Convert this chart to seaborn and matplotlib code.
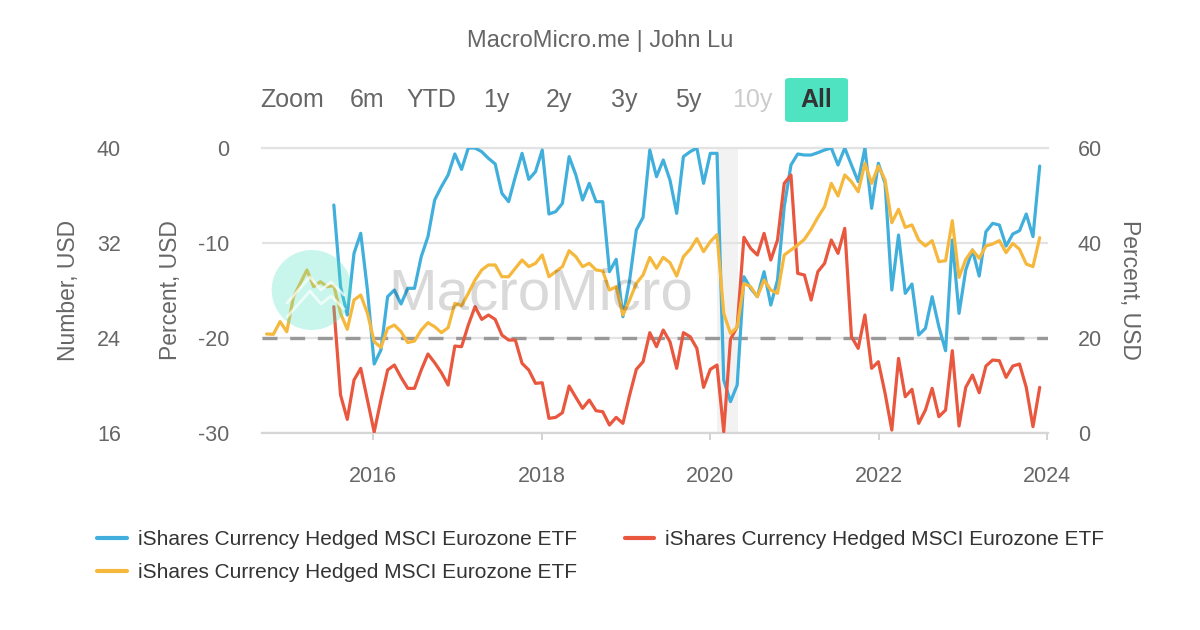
import numpy as np
import pandas as pd
import matplotlib
matplotlib.use("Agg")
import matplotlib.pyplot as plt
import seaborn as sns
from matplotlib.lines import Line2D
from matplotlib.patches import Ellipse, FancyBboxPatch

# ================= DATA =================
SERIES_NAME = "iShares Currency Hedged MSCI Eurozone ETF"

# price (Number, USD) - left outer axis
price = [24.34, 24.31, 25.38, 24.53, 27.48, 28.60, 29.73, 28.32, 28.74, 28.32, 28.41,
         26.08, 24.73, 27.20, 27.62, 26.08, 23.69, 23.21, 24.81, 25.09, 24.53,
         23.61, 23.75, 24.67, 25.29, 24.95, 24.45, 24.87, 26.92, 26.72, 27.76,
         28.88, 29.73, 30.15, 30.15, 29.16, 29.16, 29.87, 30.57, 30.01, 30.29,
         30.99, 29.16, 29.59, 30.01, 31.35, 30.85, 30.01, 30.29, 29.73, 29.64,
         28.04, 28.32, 25.94, 27.20, 28.60, 29.31, 30.79, 29.87, 30.79, 30.34,
         29.22, 30.85, 31.47, 32.37, 31.27, 32.11, 32.70, 26.08, 24.39, 24.90,
         28.60, 28.32, 27.48, 28.88, 28.04, 27.76, 30.99, 31.41, 31.83, 32.31,
         33.15, 34.16, 35.06, 37.02, 35.96, 37.73, 37.16, 36.32, 38.71, 37.02,
         38.48, 37.31, 33.71, 34.84, 33.32, 33.52, 32.25, 31.75, 32.20, 30.43,
         30.51, 33.88, 29.11, 30.62, 31.41, 30.71, 31.75, 31.92, 32.20, 31.19,
         31.97, 31.47, 30.23, 30.01, 32.45]

# drawdown (Percent, USD) - left inner axis, starts later than price
drawdown = [-6.00, -14.60, -17.58, -11.09, -8.98, -14.95, -22.74, -21.27, -15.65, -14.95, -16.42,
            -14.77, -14.77, -11.44, -9.33, -5.47, -4.07, -2.84, -0.63, -2.25, 0.0,
            0.0, -0.39, -1.09, -1.68, -4.77, -5.65, -3.02, -0.56, -3.30, -2.49,
            -0.21, -6.95, -6.70, -5.83, -0.91, -2.84, -5.47, -3.72, -5.65, -5.65,
            -13.02, -11.72, -17.76, -13.90, -8.63, -7.30, -0.21, -3.02, -1.26, -3.37,
            -6.88, -0.91, -0.39, 0.0, -3.72, -0.56, -0.56, -24.42, -26.70, -24.95,
            -13.55, -14.77, -15.65, -13.02, -16.53, -13.90, -6.18, -1.79, -0.63, -0.74,
            -0.74, -0.49, -0.21, 0.0, -1.79, 0.0, -1.79, -3.54, 0.0, -6.35,
            -1.61, -3.72, -14.95, -9.16, -15.30, -14.32, -19.69, -18.98, -15.65, -18.81,
            -21.34, -9.69, -17.41, -12.84, -10.74, -13.48, -8.81, -7.93, -8.11, -10.32,
            -9.05, -8.70, -6.95, -9.33, -1.90]

# yoy change (Percent, USD) - right axis
yoy = [26.59, 7.99, 2.87, 11.15, 13.61, 6.94, 0.20, 6.94, 13.26, 14.31, 11.71,
       9.40, 9.40, 13.26, 16.63, 14.80, 12.70, 10.10, 18.31, 18.17, 22.73,
       26.59, 23.92, 24.84, 23.92, 20.62, 19.57, 19.57, 14.66, 13.26, 10.45,
       10.59, 3.08, 3.29, 4.27, 9.89, 7.50, 5.19, 6.94, 4.69, 4.48,
       1.68, 3.29, 2.03, 7.99, 13.40, 15.01, 21.12, 18.17, 21.68, 19.22,
       13.61, 21.12, 20.27, 17.82, 9.61, 13.40, 14.31, 0.27, 19.71, 22.38,
       41.19, 38.87, 37.47, 42.03, 36.42, 40.63, 52.56, 54.31, 33.61, 33.26,
       27.99, 33.96, 35.71, 40.63, 37.82, 43.08, 20.27, 17.82, 24.84, 13.61,
       15.01, 8.35, 0.62, 15.71, 7.64, 9.19, 2.03, 4.83, 9.40, 3.43,
       4.83, 17.33, 1.47, 9.61, 12.20, 8.48, 14.10, 15.36, 15.22, 11.71,
       14.10, 14.52, 9.61, 1.33, 9.61]

dates = pd.date_range("2014-09-26", "2023-12-01", periods=len(price))
START = len(price) - len(yoy)

year_ticks = [2016, 2018, 2020, 2022, 2024]
num_ticks = [40, 32, 24, 16]
pct_ticks = [0, -10, -20, -30]
right_ticks = [60, 40, 20, 0]
buttons = ["Zoom", "6m", "YTD", "1y", "2y", "3y", "5y", "10y"]
button_x = [260, 350, 406, 483, 546, 611, 675, 732]  # px, left edges

BLUE, RED, YELLOW = "#41afdc", "#e9573f", "#f6b83c"
GREY = "#666666"

# ================= STYLE =================
sns.set_theme(style="white")
plt.rcParams["font.family"] = ["Liberation Sans", "DejaVu Sans"]
plt.rcParams["axes.unicode_minus"] = False

W, H = 1200, 630
fig = plt.figure(figsize=(W / 100, H / 100), dpi=100)
fig.patch.set_facecolor("white")
ax = fig.add_axes([262 / W, 1 - 433 / H, 786 / W, 285 / H])
ax_red = ax.twinx()
ax_num = ax.twinx()

# recession band + plot line
ax.axvspan(pd.Timestamp("2020-02-01"), pd.Timestamp("2020-04-30"), color="#f2f2f2", zorder=0, lw=0)
ax.axhline(-20, color="#999999", lw=2.4, ls=(0, (4.5, 3.8)), zorder=1)

# --- series ---
sns.lineplot(x=dates[START:], y=drawdown, ax=ax, color=BLUE, lw=2.3, zorder=3)
sns.lineplot(x=dates[START:], y=yoy, ax=ax_red, color=RED, lw=2.3, zorder=3)
sns.lineplot(x=dates, y=price, ax=ax_num, color=YELLOW, lw=2.3, zorder=3)

xmin, xmax = pd.Timestamp("2014-09-06"), pd.Timestamp("2024-01-06")
for a in (ax, ax_red, ax_num):
    a.set_xlim(xmin, xmax)
    a.set_xlabel("")
    a.set_ylabel("")
    for s in a.spines.values():
        s.set_visible(False)

ax.set_ylim(-30, 0)
ax_num.set_ylim(16, 40)
ax_red.set_ylim(0, 60)

# grid
ax.set_yticks(pct_ticks)
ax.yaxis.grid(True, color="#e3e3e3", lw=1.6)
ax.spines["bottom"].set_visible(True)
ax.spines["bottom"].set_color("#d6d6d6")
ax.spines["bottom"].set_linewidth(1.6)
ax.spines["top"].set_visible(True)
ax.spines["top"].set_color("#e3e3e3")
ax.spines["top"].set_linewidth(1.6)

ax.set_xticks([pd.Timestamp(f"{y}-01-01") for y in year_ticks])
ax.set_xticklabels([str(y) for y in year_ticks])
ax.tick_params(axis="x", length=5, width=1.2, color="#cccccc", pad=19,
               labelsize=15.5, labelcolor=GREY, bottom=True)
ax.tick_params(axis="y", length=0, pad=23.8, labelsize=15.5, labelcolor=GREY)

ax_num.set_yticks(num_ticks)
ax_num.yaxis.tick_left()
ax_num.tick_params(axis="y", length=0, pad=101.5, labelsize=15.5, labelcolor=GREY)
ax_num.grid(False)

ax_red.set_yticks(right_ticks)
ax_red.tick_params(axis="y", length=0, pad=21.6, labelsize=15.5, labelcolor=GREY)
ax_red.grid(False)

for a in (ax_red, ax_num):
    a.tick_params(axis="x", bottom=False, labelbottom=False)

# axis titles
fig.text(69 / W, 1 - 290 / H, "Number, USD", rotation=90, ha="center", va="center",
         fontsize=16.5, color=GREY)
fig.text(170 / W, 1 - 290 / H, "Percent, USD", rotation=90, ha="center", va="center",
         fontsize=16.5, color=GREY)
fig.text(1130 / W, 1 - 290 / H, "Percent, USD", rotation=270, ha="center", va="center",
         fontsize=16.5, color=GREY)

# title + range selector
fig.text(0.5, 1 - 41 / H, "MacroMicro.me | John Lu", ha="center", va="center",
         fontsize=17, color=GREY)
for label, bx in zip(buttons, button_x):
    fig.text(bx / W, 1 - 100 / H, label, ha="left", va="center", fontsize=18,
             color="#cccccc" if label == "10y" else GREY)
fig.add_artist(FancyBboxPatch((785 / W, 1 - 122 / H), 63 / W, 44 / H,
                              boxstyle="round,pad=0,rounding_size=0.004",
                              transform=fig.transFigure, facecolor="#4fe3c2", edgecolor="none"))
fig.text(816.5 / W, 1 - 100 / H, "All", ha="center", va="center", fontsize=18,
         fontweight="bold", color="#333333")

# watermark (on top, translucent)
fig.add_artist(Ellipse((311.7 / W, 1 - 290 / H), 80 / W, 80 / H, transform=fig.transFigure,
                       facecolor="#4fe3c2", alpha=0.3, edgecolor="none", zorder=10))
mx = np.array([287, 310, 321, 331, 344]) / W
my = 1 - np.array([303, 277, 290, 282, 295]) / H
fig.add_artist(Line2D(mx, my, transform=fig.transFigure, color="white", lw=2, alpha=0.7, zorder=11))
fig.add_artist(Line2D(mx, my - 14 / H, transform=fig.transFigure, color="white", lw=2, alpha=0.7, zorder=11))
fig.text(388 / W, 1 - 310 / H, "MacroMicro", ha="left", va="baseline", fontsize=42,
         color="black", alpha=0.15, zorder=12)

# legend
handles = [Line2D([], [], color=c, lw=3, solid_capstyle="round") for c in (BLUE, YELLOW, RED)]
fig.legend(handles, [SERIES_NAME] * 3, loc="upper left", bbox_to_anchor=(97 / W, 1 - 530 / H),
           ncol=2, frameon=False, fontsize=15, handlelength=1.43, handletextpad=0.52,
           columnspacing=2.3, labelspacing=0.68, borderpad=0, borderaxespad=0,
           labelcolor="#333333")

fig.savefig("out.png", dpi=100, facecolor="white")
